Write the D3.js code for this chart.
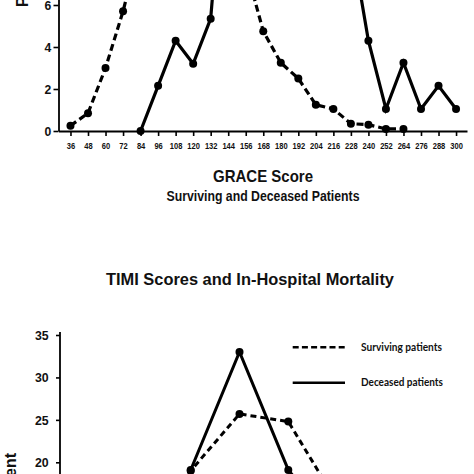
<!DOCTYPE html>
<html><head><meta charset="utf-8">
<script src="https://cdn.jsdelivr.net/npm/d3@7"></script>
<style>
body{margin:0;background:#fff;}
svg{display:block;}
.cf{font-family:"Liberation Sans Narrow","Arial Narrow","Liberation Sans",Arial,sans-serif;font-weight:bold;}
</style></head><body>
<svg id="c" width="474" height="474"></svg>
<script>
// ---- GRACE chart data ----
const graceScores = [36,48,60,72,84,96,108,120,132,144,156,168,180,192,204,216,228,240,252,264,276,288,300];
const graceSurviving = [0.25,0.85,3.0,5.7,9.0,11.5,13.0,13.5,12.5,10.5,7.8,4.75,3.25,2.5,1.25,1.05,0.35,0.3,0.1,0.1,null,null,null];
const graceDeceased = [null,null,null,null,0,2.15,4.3,3.2,5.35,15.5,14,16,13,15,12,14,9.2,4.3,1.05,3.25,1.05,2.15,1.05];
const graceYTicks = [0,2,4,6];

// ---- TIMI chart data ----
const timiScores = ["0","1","2","3","4","5","6","7"];
const timiSurviving = [1.5,5.5,19.0,25.7,24.8,15.3,6.0,2.0];
const timiDeceased = [0.5,3.0,19.1,33.0,19.1,12.0,8.0,3.0];
const timiYTicks = [0,5,10,15,20,25,30,35];
const legendLabels = ["Surviving patients","Deceased patients"];

const svg = d3.select("#c");
svg.append("rect").attr("width",474).attr("height",474).attr("fill","#fff");

function styleAxis(g, fs, sx){
  g.selectAll("path.domain").attr("stroke","#000").attr("stroke-width",1.8);
  g.selectAll(".tick line").attr("stroke","#000").attr("stroke-width",1.6);
  const t = g.selectAll(".tick text").attr("class","cf").attr("fill","#111").style("font-size",fs+"px");
  if (sx) t.attr("transform","scale("+sx+",1)");
  g.attr("font-family",null).attr("font-size",null);
}

// ===== Top chart (GRACE) =====
const gx = d3.scaleLinear().domain([27.8,307.5]).range([58.5,467]);
const gy = d3.scaleLinear().domain([0,20]).range([131,131-21*20]);

const gxa = svg.append("g").attr("transform","translate(0,131)")
  .call(d3.axisBottom(gx).tickValues(graceScores).tickFormat(d3.format("d")).tickSize(5).tickSizeOuter(0).tickPadding(7));
styleAxis(gxa, 9, 0.84);
const gya = svg.append("g").attr("transform","translate(58.5,0)")
  .call(d3.axisLeft(gy).tickValues(graceYTicks).tickFormat(d3.format("d")).tickSize(5).tickSizeOuter(0).tickPadding(3));
styleAxis(gya, 13.5, 0.9);

const gSurv = graceScores.map((s,i)=>({x:s,y:graceSurviving[i]}));
const gDec = graceScores.map((s,i)=>({x:s,y:graceDeceased[i]}));
const gline = d3.line().defined(d=>d.y!=null).x(d=>gx(d.x)).y(d=>gy(d.y));

svg.append("path").datum(gSurv).attr("d",gline).attr("fill","none")
  .attr("stroke","#000").attr("stroke-width",3.2).attr("stroke-dasharray","7,4");
svg.append("path").datum(gDec).attr("d",gline).attr("fill","none")
  .attr("stroke","#000").attr("stroke-width",3.2);
svg.append("g").selectAll("circle").data(gSurv.filter(d=>d.y!=null).concat(gDec.filter(d=>d.y!=null)))
  .join("circle").attr("cx",d=>gx(d.x)).attr("cy",d=>gy(d.y)).attr("r",4).attr("fill","#000");

svg.append("text").attr("class","cf").attr("transform","translate(28,7) rotate(-90)")
  .attr("text-anchor","start").style("font-size","16px").attr("fill","#111").text("Percent");

svg.append("text").attr("class","cf").attr("x",263).attr("y",182).attr("text-anchor","middle")
  .style("font-size","17px").attr("fill","#111").attr("textLength",100).attr("lengthAdjust","spacingAndGlyphs").text("GRACE Score");
svg.append("text").attr("class","cf").attr("x",263).attr("y",201).attr("text-anchor","middle")
  .style("font-size","14.5px").attr("fill","#111").attr("textLength",193).attr("lengthAdjust","spacingAndGlyphs").text("Surviving and Deceased Patients");

svg.append("text").attr("class","cf").attr("x",250).attr("y",285).attr("text-anchor","middle")
  .style("font-size","17px").attr("fill","#111").attr("textLength",288).attr("lengthAdjust","spacingAndGlyphs").text("TIMI Scores and In-Hospital Mortality");

// ===== Bottom chart (TIMI) =====
const tx = d3.scalePoint().domain(timiScores).range([93.1,93.1+48.8*7]);
const ty = d3.scaleLinear().domain([0,35]).range([335+35*8.487,335]);

const tya = svg.append("g").attr("transform","translate(60,0)")
  .call(d3.axisLeft(ty).tickValues(timiYTicks).tickFormat(d3.format("d")).tickSize(4).tickSizeOuter(0).tickPadding(8));
styleAxis(tya, 13, 0.95);
tya.select("path.domain").attr("d","M0,332V"+ty(0));

const tline = d3.line().x(d=>tx(d.x)).y(d=>ty(d.y));
const tSurv = timiScores.map((s,i)=>({x:s,y:timiSurviving[i]}));
const tDec = timiScores.map((s,i)=>({x:s,y:timiDeceased[i]}));
svg.append("path").datum(tSurv).attr("d",tline).attr("fill","none")
  .attr("stroke","#000").attr("stroke-width",3).attr("stroke-dasharray","6,4");
svg.append("path").datum(tDec).attr("d",tline).attr("fill","none")
  .attr("stroke","#000").attr("stroke-width",3);
svg.append("g").selectAll("circle").data(tSurv.concat(tDec))
  .join("circle").attr("cx",d=>tx(d.x)).attr("cy",d=>ty(d.y)).attr("r",4).attr("fill","#000");

svg.append("text").attr("class","cf").attr("transform","translate(16,453) rotate(-90)")
  .attr("text-anchor","end").style("font-size","16px").attr("fill","#111").text("Percent");

// legend
const leg = svg.append("g");
[0,1].forEach(i=>{
  const y = i===0 ? 347.3 : 382.7;
  leg.append("line").attr("x1",292.7).attr("x2",345).attr("y1",y).attr("y2",y)
    .attr("stroke","#000").attr("stroke-width",2.6).attr("stroke-dasharray",i===0?"6,3.2":null);
  leg.append("text").attr("x",361).attr("y",y+3.5)
    .style("font-family","Lato,'Open Sans',sans-serif").style("font-weight","bold").style("font-size","10.5px")
    .attr("fill","#111").attr("textLength",i===0?81:82).attr("lengthAdjust","spacingAndGlyphs").text(legendLabels[i]);
});
</script></body></html>
